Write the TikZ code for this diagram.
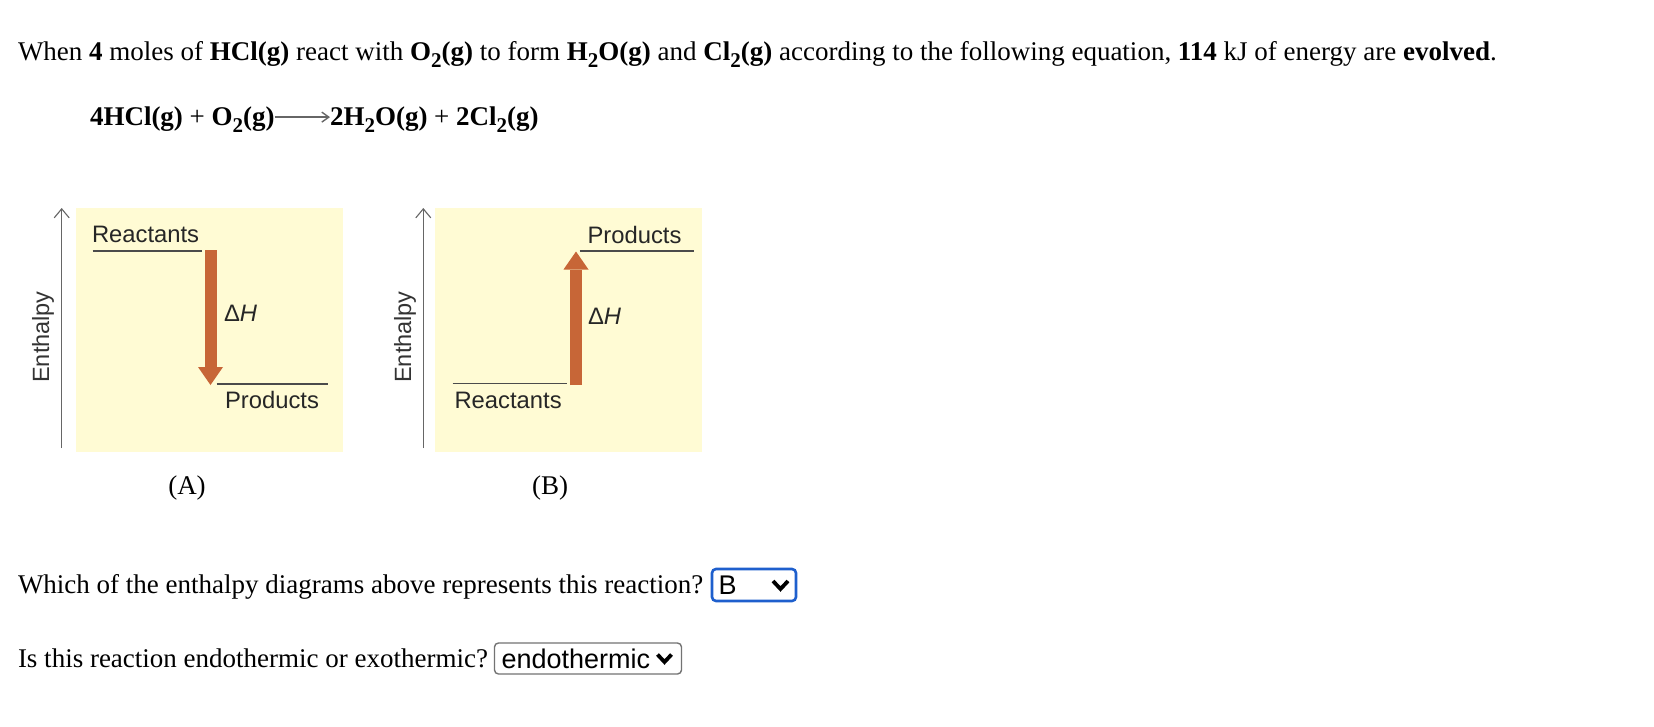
\documentclass[tikz,border=0pt]{standalone}
\usepackage{fontspec}
\setmainfont{Liberation Serif}
\setsansfont{Liberation Sans}
\usetikzlibrary{arrows.meta}
\usetikzlibrary{positioning}

\definecolor{panelyellow}{RGB}{255,251,212}
\definecolor{dhorange}{RGB}{199,102,55}
\definecolor{levelgray}{RGB}{75,75,75}
\definecolor{focusblue}{RGB}{30,95,205}

\newcommand{\chemsub}[1]{\raisebox{-7pt}{\fontsize{21}{21}\selectfont #1}}

\begin{document}
\begin{tikzpicture}[
            x=1pt, y=-1pt,
            every node/.style={inner sep=0pt, outer sep=0pt},
            prose/.style={font=\fontsize{27}{32}\selectfont, anchor=base west},
            caption/.style={font=\fontsize{27}{32}\selectfont, anchor=base},
            panel/.style={fill=panelyellow, anchor=north west, minimum width=267pt, minimum height=244pt},
            lvltext/.style={font=\sffamily\fontsize{23.8}{28}\selectfont, text=black!85, anchor=base west},
            axistext/.style={font=\sffamily\fontsize{23.5}{28}\selectfont, text=black!80, rotate=90},
            level/.style={draw=levelgray, line width=1.5pt},
            yaxis/.style={draw=black!60, line width=1.1pt, -{Straight Barb[length=9pt, width=15pt]}},
            dharrow/.style={draw=dhorange, line width=12pt, -{Triangle[length=18pt, width=25pt, line width=0pt]}},
            rxnarrow/.style={draw=black!60, line width=1.4pt, -{Straight Barb[length=7pt, width=10pt]}},
            selectbox/.style={rounded corners=4pt, anchor=north west},
            choice/.style={font=\sffamily\fontsize{27}{32}\selectfont, anchor=base west},
            chevron/.style={draw=black, line width=3.8pt, line join=miter}
        ]
            \path [fill=white, use as bounding box] (0,0) rectangle (1654,726);

            % statement and equation
            \node [prose] (intro) at (18,60) {When \textbf{4} moles of \textbf{HCl(g)} react with \textbf{O\chemsub{2}(g)} to form \textbf{H\chemsub{2}O(g)} and \textbf{Cl\chemsub{2}(g)} according to the following equation, \textbf{114} kJ of energy are \textbf{evolved}.};
            \node [prose] (eqleft) at (90,125) {\textbf{4HCl(g)} + \textbf{O\chemsub{2}(g)}};
            \node [prose] (eqright) at (330,125) {\textbf{2H\chemsub{2}O(g)} + \textbf{2Cl\chemsub{2}(g)}};
            \draw [rxnarrow] ([yshift=2pt]eqleft.east) -- ([yshift=2pt]eqright.west |- eqleft.east);

            % diagram A
            \node [panel] (panelA) at (76,207.5) {};
            \coordinate (axisAlow) at (61.7,448);
            \coordinate (axisAhigh) at (61.7,208);
            \draw [yaxis] (axisAlow) -- (axisAhigh);
            \node [axistext] (enthA) at (43,337) {Enthalpy};
            \node [lvltext] (reacA) at (92,242) {Reactants};
            \draw [level] (92.5,251) -- (201.5,251);
            \node [lvltext] (prodA) at (225,408.5) {Products};
            \draw [level] (216.5,384) -- (328,384);
            \coordinate (dhAstart) at (210.5,250);
            \coordinate (dhAend) at (210.5,385);
            \draw [dharrow] (dhAstart) -- (dhAend);
            \node [lvltext] (dhA) at (224,321) {Δ\textit{H}};
            \node [caption] (capA) at (187,494) {(A)};

            % diagram B
            \node [panel] (panelB) at (435,207.5) {};
            \coordinate (axisBlow) at (423.3,448);
            \coordinate (axisBhigh) at (423.3,208);
            \draw [yaxis] (axisBlow) -- (axisBhigh);
            \node [axistext] (enthB) at (405,337) {Enthalpy};
            \node [lvltext] (reacB) at (454.5,408) {Reactants};
            \draw [level] (452.5,383.5) -- (566.5,383.5);
            \node [lvltext] (prodB) at (587.5,243) {Products};
            \draw [level] (579.5,251) -- (693.5,251);
            \coordinate (dhBstart) at (576,385);
            \coordinate (dhBend) at (576,251.5);
            \draw [dharrow] (dhBstart) -- (dhBend);
            \node [lvltext] (dhB) at (588,324) {Δ\textit{H}};
            \node [caption] (capB) at (550,494) {(B)};

            % questions with their answers
            \node [prose] (askdiagram) at (18,593) {Which of the enthalpy diagrams above represents this reaction?};
            \node [selectbox, draw=focusblue, line width=2.6pt, minimum width=84pt, minimum height=32pt] (pickdiagram) at (712,569) {};
            \node [choice] (pickB) at (718.5,594) {B};
            \draw [chevron] ([shift={(-23,-4)}]pickdiagram.east) -- ++(7.5,8) -- ++(7.5,-8);

            \node [prose] (askheat) at (18,667) {Is this reaction endothermic or exothermic?};
            \node [selectbox, draw=black!55, line width=1.4pt, minimum width=187pt, minimum height=31pt] (pickheat) at (494.5,643) {};
            \node [choice] (pickendo) at (501.5,668) {endothermic};
            \draw [chevron] ([shift={(-24,-4)}]pickheat.east) -- ++(7,7.5) -- ++(7,-7.5);
        \end{tikzpicture}
\end{document}
